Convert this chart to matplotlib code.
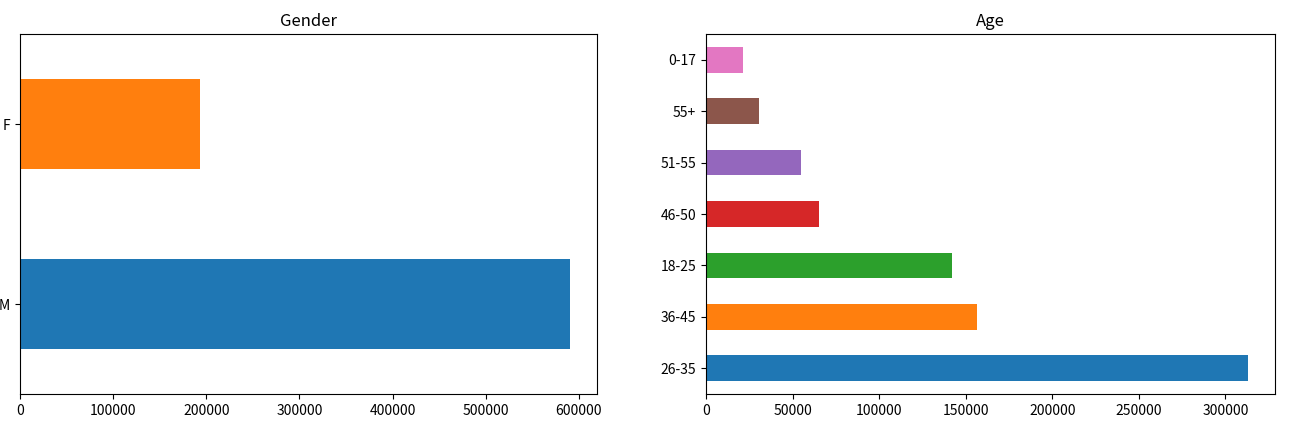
import matplotlib
matplotlib.use('Agg')
import matplotlib.pyplot as plt

plt.rcParams['font.family'] = ['Noto Sans CJK SC', 'DejaVu Sans']
plt.rcParams['axes.unicode_minus'] = False

# Datos
gender_labels = ['M', 'F']
gender_counts = [590031, 193636]

age_labels = ['26-35', '36-45', '18-25', '46-50', '51-55', '55+', '0-17']
age_counts = [313015, 156724, 141953, 65278, 54784, 30579, 21334]

palette = ['#1f77b4', '#ff7f0e', '#2ca02c', '#d62728', '#9467bd', '#8c564b', '#e377c2']

W, H = 1298, 433
fig = plt.figure(figsize=(W / 100, H / 100), dpi=100)

ax1 = fig.add_axes([20 / W, 39 / H, 577 / W, 360 / H])
ax1.barh(range(len(gender_labels)), gender_counts, height=0.5,
         color=palette[:len(gender_labels)])
ax1.set_yticks(range(len(gender_labels)))
ax1.set_yticklabels(gender_labels)
ax1.set_ylim(-0.5, len(gender_labels) - 0.5)
ax1.set_title('Gender')

ax2 = fig.add_axes([706 / W, 39 / H, 569 / W, 360 / H])
ax2.barh(range(len(age_labels)), age_counts, height=0.5,
         color=palette[:len(age_labels)])
ax2.set_yticks(range(len(age_labels)))
ax2.set_yticklabels(age_labels)
ax2.set_ylim(-0.5, len(age_labels) - 0.5)
ax2.set_title('Age')

fig.savefig('out.png', dpi=100)
plt.close()
